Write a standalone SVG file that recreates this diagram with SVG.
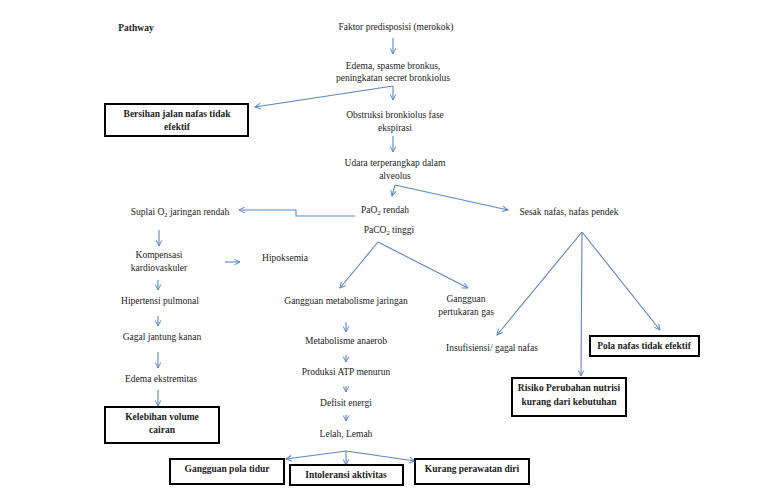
<svg xmlns="http://www.w3.org/2000/svg" width="768" height="503" viewBox="0 0 768 503">
<style>
text{font-family:"Liberation Serif","Times New Roman",serif;font-size:9.5px;fill:#222;text-anchor:middle}
.b{font-weight:bold}
.box{fill:#fff;stroke:#000;stroke-width:2}
.c{fill:none;stroke:#5b86c4;stroke-width:1.1;marker-end:url(#a)}
</style>
<defs><marker id="a" viewBox="0 0 10 10" refX="9" refY="5" markerWidth="7" markerHeight="7" orient="auto" markerUnits="userSpaceOnUse"><polyline points="1,1 9,5 1,9" fill="none" stroke="#5b86c4" stroke-width="1.4"/></marker></defs>
<rect width="768" height="503" fill="#fff"/>
<text class="b" x="136" y="31">Pathway</text>
<g id="connectors">
<path class="c" d="M393 38V54"/>
<path class="c" d="M393 86L255 107"/>
<path class="c" d="M393 86V100"/>
<path class="c" d="M393 136V152"/>
<path class="c" d="M395 185L392 196"/>
<path class="c" d="M395 185L508 210"/>
<path class="c" d="M355 216H296V210H239"/>
<path class="c" d="M159 230V246"/>
<path class="c" d="M225 262H240"/>
<path class="c" d="M158 280V290"/>
<path class="c" d="M158 316V326"/>
<path class="c" d="M158 352V368"/>
<path class="c" d="M158 390V406"/>
<path class="c" d="M378 242L340 288"/>
<path class="c" d="M378 242L468 288"/>
<path class="c" d="M346 322V332"/>
<path class="c" d="M346 355V362"/>
<path class="c" d="M346 386V392"/>
<path class="c" d="M346 415V421"/>
<path class="c" d="M346 451L286 459"/>
<path class="c" d="M346 451V465"/>
<path class="c" d="M346 451L415 461"/>
<path class="c" d="M582 232L497 335"/>
<path class="c" d="M582 232L581 376"/>
<path class="c" d="M582 232L660 330"/>
</g>
<g id="n1"><text x="396" y="30">Faktor predisposisi (merokok)</text></g>
<g id="n2"><text x="393" y="69">Edema, spasme bronkus,</text><text x="393" y="81">peningkatan secret bronkiolus</text></g>
<g id="n3"><rect class="box" x="105" y="104" width="143" height="32"/><text class="b" x="177" y="117">Bersihan jalan nafas tidak</text><text class="b" x="177" y="130">efektif</text></g>
<g id="n4"><text x="395" y="118">Obstruksi bronkiolus fase</text><text x="395" y="131">ekspirasi</text></g>
<g id="n5"><text x="395" y="166">Udara terperangkap dalam</text><text x="395" y="179">alveolus</text></g>
<g id="n6"><text x="385" y="213">PaO<tspan font-size="6.5" dy="2">2</tspan><tspan dy="-2"> rendah</tspan></text></g>
<g id="n7"><text x="389" y="233">PaCO<tspan font-size="6.5" dy="2">2</tspan><tspan dy="-2"> tinggi</tspan></text></g>
<g id="n8"><text x="180" y="215">Suplai O<tspan font-size="6.5" dy="2">2</tspan><tspan dy="-2"> jaringan rendah</tspan></text></g>
<g id="n9"><text x="159" y="258">Kompensasi</text><text x="159" y="271">kardiovaskuler</text></g>
<g id="n10"><text x="285" y="261">Hipoksemia</text></g>
<g id="n11"><text x="160" y="304">Hipertensi pulmonal</text></g>
<g id="n12"><text x="162" y="340">Gagal jantung kanan</text></g>
<g id="n13"><text x="161" y="382">Edema ekstremitas</text></g>
<g id="n14"><rect class="box" x="105" y="407" width="114" height="36"/><text class="b" x="162" y="420">Kelebihan volume</text><text class="b" x="162" y="433">cairan</text></g>
<g id="n15"><text x="346" y="304">Gangguan metabolisme jaringan</text></g>
<g id="n16"><text x="466" y="302">Gangguan</text><text x="466" y="315">pertukaran gas</text></g>
<g id="n17"><text x="346" y="344">Metabolisme anaerob</text></g>
<g id="n18"><text x="346" y="375">Produksi ATP menurun</text></g>
<g id="n19"><text x="346" y="406">Defisit energi</text></g>
<g id="n20"><text x="346" y="437">Lelah, Lemah</text></g>
<g id="n21"><rect class="box" x="170" y="459" width="114" height="25"/><text class="b" x="227" y="472">Gangguan pola tidur</text></g>
<g id="n22"><rect class="box" x="290" y="465" width="113" height="20"/><text class="b" x="346" y="478">Intoleransi aktivitas</text></g>
<g id="n23"><rect class="box" x="415" y="459" width="114" height="25"/><text class="b" x="472" y="472">Kurang perawatan diri</text></g>
<g id="n24"><text x="569" y="215">Sesak nafas, nafas pendek</text></g>
<g id="n25"><text x="492" y="351">Insufisiensi/ gagal nafas</text></g>
<g id="n26"><rect class="box" x="590" y="336" width="109" height="20"/><text class="b" x="644" y="349">Pola nafas tidak efektif</text></g>
<g id="n27"><rect class="box" x="512" y="378" width="114" height="38"/><text class="b" x="569" y="391">Risiko Perubahan nutrisi</text><text class="b" x="569" y="405">kurang dari kebutuhan</text></g>
</svg>
